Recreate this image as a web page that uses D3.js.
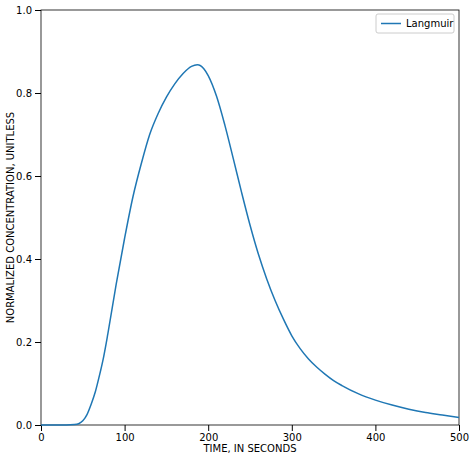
<!DOCTYPE html><html><head><meta charset="utf-8"><script src="https://d3js.org/d3.v7.min.js"></script>
<style>body{margin:0;background:#fff}text{font-family:"DejaVu Sans",sans-serif}</style></head><body><svg width="474" height="460"></svg>
<script>
const times=[0,10,20,30,40,45,50,55,60,65,70,75,80,90,100,110,120,130,140,150,160,170,180,187,195,200,210,220,230,240,250,260,270,280,290,300,310,320,330,340,350,360,380,400,420,440,460,480,500];
const conc=[0,0,0,0,0.001,0.003,0.01,0.025,0.05,0.08,0.12,0.165,0.22,0.34,0.45,0.55,0.63,0.70,0.75,0.79,0.822,0.847,0.864,0.868,0.858,0.842,0.792,0.722,0.642,0.56,0.482,0.412,0.352,0.3,0.255,0.215,0.184,0.159,0.139,0.122,0.107,0.095,0.075,0.06,0.048,0.038,0.03,0.024,0.018];
const xTicks=[0,100,200,300,400,500], yTicks=[0,0.2,0.4,0.6,0.8,1.0];
const svg=d3.select("svg"),L=41,R=459,T=10,B=425;
const x=d3.scaleLinear().domain([0,500]).range([L,R]);
const y=d3.scaleLinear().domain([0,1]).range([B,T]);
svg.append("g").attr("transform",`translate(0,${B})`).call(d3.axisBottom(x).tickValues(xTicks).tickFormat(d3.format("d")).tickSizeOuter(0)).attr("font-size",10);
svg.append("g").attr("transform",`translate(${L},0)`).call(d3.axisLeft(y).tickValues(yTicks).tickFormat(d3.format(".1f")).tickSizeOuter(0)).attr("font-size",10);
svg.selectAll(".domain").remove();
svg.append("rect").attr("x",L).attr("y",T).attr("width",R-L).attr("height",B-T).attr("fill","none").attr("stroke","#000").attr("stroke-width",0.8);
svg.append("path").datum(times.map((t,i)=>[t,conc[i]])).attr("fill","none").attr("stroke","#1f77b4").attr("stroke-width",1.5)
 .attr("d",d3.line().x(d=>x(d[0])).y(d=>y(d[1])).curve(d3.curveMonotoneX));
svg.append("text").attr("x",(L+R)/2).attr("y",452).attr("text-anchor","middle").attr("font-size",10).text("TIME, IN SECONDS");
svg.append("text").attr("transform",`translate(14,${(T+B)/2}) rotate(-90)`).attr("text-anchor","middle").attr("font-size",10).text("NORMALIZED CONCENTRATION, UNITLESS");
const lg=svg.append("g");
lg.append("rect").attr("x",376).attr("y",14).attr("width",78).attr("height",19).attr("rx",2).attr("fill","#fff").attr("stroke","#ccc");
lg.append("line").attr("x1",381).attr("x2",401).attr("y1",23.5).attr("y2",23.5).attr("stroke","#1f77b4").attr("stroke-width",1.5);
lg.append("text").attr("x",406).attr("y",27).attr("font-size",10).text("Langmuir");
</script></body></html>
